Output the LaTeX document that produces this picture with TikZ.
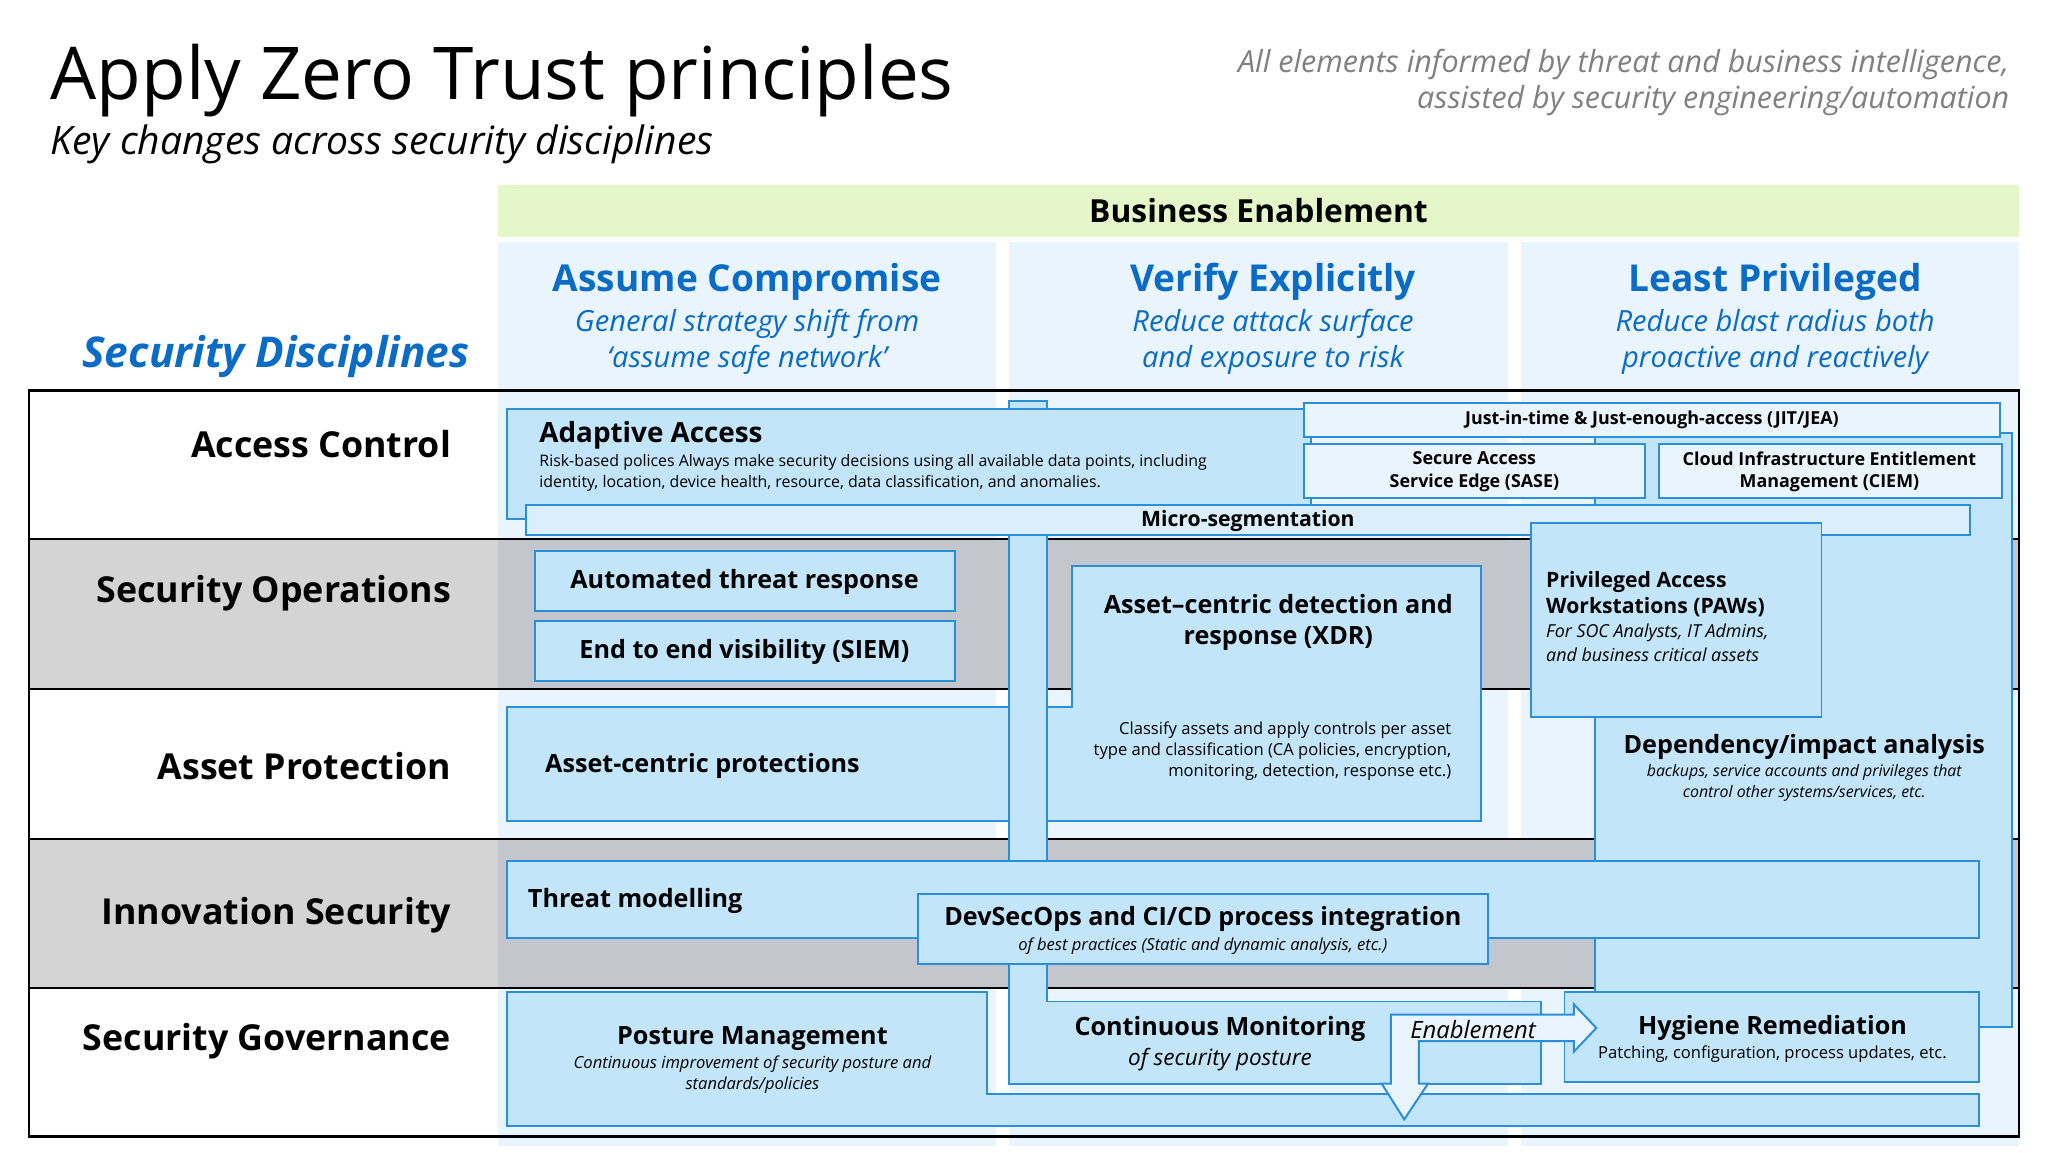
\documentclass[tikz,border=0pt]{standalone}
\usepackage{fontspec}
\setmainfont{Open Sans}
\begin{document}
\begin{tikzpicture}[x=1pt,y=-1pt,
 box/.style={fill=boxc,draw=edgec,line width=1.5pt},
 lbl/.style={font=\fontsize{27}{30}\selectfont\bfseries,anchor=east},
 ttl/.style={font=\fontsize{19}{23}\selectfont\bfseries,align=center},
 sml/.style={font=\fontsize{12.5}{16}\selectfont,align=center},
 smi/.style={font=\fontsize{12.5}{16}\selectfont\itshape,align=center},
 colh/.style={font=\fontsize{28}{30}\selectfont\bfseries,text=headc},
 cols/.style={font=\fontsize{22}{27}\selectfont\itshape,text=headc,align=center}]
\definecolor{boxc}{HTML}{C3E5FA}
\definecolor{edgec}{HTML}{2A8FD8}
\definecolor{colc}{HTML}{EAF4FC}
\definecolor{headc}{HTML}{0A6CC4}
\definecolor{grayl}{HTML}{D4D4D4}
\definecolor{grayr}{HTML}{C3C6CC}
\definecolor{greenb}{HTML}{E5F6C9}
\useasboundingbox (0,0) rectangle (1546,870);
\fill[white] (0,0) rectangle (1546,870);
% title
\node[anchor=base west,inner sep=0,font=\fontsize{55}{60}\selectfont] (title) at (38,75) {Apply Zero Trust principles};
\node[anchor=base west,inner sep=0,font=\fontsize{29.5}{32}\selectfont\itshape] (sub) at (38,117) {Key changes across security disciplines};
\node[anchor=north east,inner sep=0,align=right,text=gray,font=\fontsize{23}{27}\selectfont\itshape] (note) at (1517,37) {All elements informed by threat and business intelligence,\\assisted by security engineering/automation};
% business enablement
\fill[greenb] (376,140) rectangle (1524,179);
\node[font=\fontsize{24}{28}\selectfont\bfseries] (be) at (950,159) {Business Enablement};
% columns
\fill[colc] (376,183) rectangle (752,865);
\fill[colc] (762,183) rectangle (1138,865);
\fill[colc] (1148,183) rectangle (1524,865);
\node[colh] (h1) at (564,213) {Assume Compromise};
\node[cols] (s1) at (564,258) {General strategy shift from\\‘assume safe network’};
\node[colh] (h2) at (961,213) {Verify Explicitly};
\node[cols] (s2) at (961,258) {Reduce attack surface\\and exposure to risk};
\node[colh] (h3) at (1340,213) {Least Privileged};
\node[cols] (s3) at (1340,258) {Reduce blast radius both\\proactive and reactively};
\node[font=\fontsize{32}{36}\selectfont\bfseries\itshape,text=headc,anchor=east] (sd) at (358,269) {Security Disciplines};
% rows
\fill[white] (22,295) rectangle (376,858);
\fill[grayl] (22,407) rectangle (376,520);
\fill[grayl] (22,633) rectangle (376,746);
\fill[grayr] (376,407) rectangle (1524,520);
\fill[grayr] (376,633) rectangle (1524,746);
\draw[line width=2pt] (22,295) rectangle (1524,858);
\foreach \y in {407,520,633,746} \draw[line width=1.5pt] (22,\y) -- (1524,\y);
\node[lbl] (r1) at (344,335) {Access Control};
\node[lbl] (r2) at (344,448) {Security Operations};
\node[lbl] (r3) at (344,578) {Asset Protection};
\node[lbl] (r4) at (344,691) {Innovation Security};
\node[lbl] (r5) at (344,786) {Security Governance};
% shapes
\draw[box] (1204,395) -- (1204,327) -- (1519,327) -- (1519,775) -- (1494,775) -- (1494,749) -- (1204,749) -- cycle;
\draw[box] (762,303) -- (790,303) -- (790,756) -- (1163,756) -- (1163,818) -- (762,818) -- cycle;
\draw[box] (383,309) rectangle (990,392);
\node[anchor=north west,inner sep=0,font=\fontsize{21}{24}\selectfont\bfseries] (aa) at (407,318) {Adaptive Access};
\node[anchor=north west,inner sep=0,align=left,font=\fontsize{12}{16}\selectfont] (aad) at (407,343) {Risk-based polices Always make security decisions using all available data points, including\\identity, location, device health, resource, data classification, and anomalies.};
\draw[box,fill=colc] (984,304) rectangle (1510,330);
\node[font=\fontsize{13.5}{16}\selectfont\bfseries] (jit) at (1247,317) {Just-in-time \& Just-enough-access (JIT/JEA)};
\draw[box,fill=colc] (984,335) rectangle (1242,376);
\node[font=\fontsize{13.5}{17}\selectfont\bfseries,align=center] (sase) at (1113,356) {Secure Access\\Service Edge (SASE)};
\draw[box,fill=colc] (1252,335) rectangle (1511,376);
\node[font=\fontsize{13.5}{17}\selectfont\bfseries,align=center] (ciem) at (1381,356) {Cloud Infrastructure Entitlement\\Management (CIEM)};
\draw[box,fill=colc!60!boxc] (397,381) rectangle (1487,404);
\node[font=\fontsize{16}{18}\selectfont\bfseries] (ms) at (942,393) {Micro-segmentation};
\draw[box] (404,416) rectangle (721,461);
\node[ttl] (atr) at (562,439) {Automated threat response};
\draw[box] (404,469) rectangle (721,514);
\node[ttl] (siem) at (562,492) {End to end visibility (SIEM)};
\draw[box] (383,534) rectangle (762,620);
\node[ttl,anchor=west] (acp) at (408,578) {Asset-centric protections};
\draw[box] (809,427) -- (1118,427) -- (1118,620) -- (790,620) -- (790,534) -- (809,534) -- cycle;
\node[ttl] (xdr) at (965,470) {Asset–centric detection and\\response (XDR)};
\node[sml,align=right,anchor=north east] (xdrd) at (1099,541) {Classify assets and apply controls per asset\\type and classification (CA policies, encryption,\\monitoring, detection, response etc.)};
\draw[box] (1156,395) rectangle (1375,541);
\node[anchor=north west,inner sep=0,align=left,font=\fontsize{16}{20}\selectfont\bfseries] (paw) at (1167,431) {Privileged Access\\Workstations (PAWs)};
\node[anchor=north west,inner sep=0,align=left,font=\fontsize{13.5}{18}\selectfont\itshape] (pawd) at (1167,471) {For SOC Analysts, IT Admins,\\and business critical assets};
\node[ttl] (dep) at (1362,564) {Dependency/impact analysis};
\node[smi,font=\fontsize{12}{16}\selectfont\itshape] (depd) at (1362,591) {backups, service accounts and privileges that\\control other systems/services, etc.};
\draw[box] (383,650) rectangle (1494,708);
\node[ttl,anchor=west] (tm) at (395,680) {Threat modelling};
\draw[box] (693,675) rectangle (1123,728);
\node[ttl] (dso) at (908,694) {DevSecOps and CI/CD process integration};
\node[smi] (dsod) at (908,714) {of best practices (Static and dynamic analysis, etc.)};
\draw[box] (383,749) -- (745,749) -- (745,826) -- (1494,826) -- (1494,850) -- (383,850) -- cycle;
\node[ttl] (pm) at (568,784) {Posture Management};
\node[smi] (pmd) at (568,811) {Continuous improvement of security posture and\\standards/policies};
\node[ttl] (cm) at (921,777) {Continuous Monitoring};
\node[font=\fontsize{17}{20}\selectfont\itshape] (cmd) at (921,800) {of security posture};
\draw[box] (1181,749) rectangle (1494,817);
\node[ttl] (hr) at (1338,776) {Hygiene Remediation};
\node[sml] (hrd) at (1338,796) {Patching, configuration, process updates, etc.};
% enablement arrow
\draw[box,fill=colc] (1050,766) -- (1188,766) -- (1188,758) -- (1205,776) -- (1188,794) -- (1188,786) -- (1071,786) -- (1071,818) -- (1078,818) -- (1060,845) -- (1043,818) -- (1050,818) -- cycle;
\node[font=\fontsize{18}{20}\selectfont\itshape] (en) at (1112,777) {Enablement};
\end{tikzpicture}
\end{document}
